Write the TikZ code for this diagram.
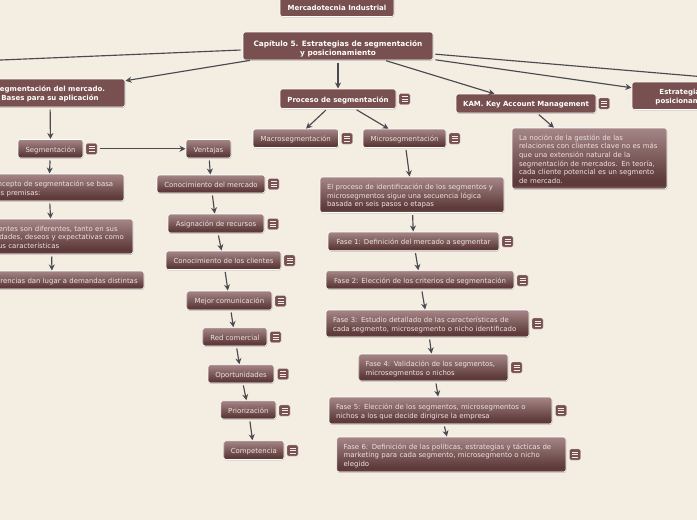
\documentclass[tikz,border=0pt]{standalone}
\usepackage{fontspec}
\setmainfont{DejaVu Sans}
\usetikzlibrary{arrows.meta,shadows}
\definecolor{paper}{HTML}{F3EDE2}
\definecolor{solidbox}{HTML}{785050}
\definecolor{softtext}{HTML}{EDE3E0}
\definecolor{linkcol}{HTML}{4A4A50}
\definecolor{boxlow}{HTML}{8E7070}
\definecolor{boxdark}{HTML}{5E3A3A}
\definecolor{boxtop}{HTML}{A58686}
\pgfdeclareverticalshading{boxshade}{100bp}{
  color(0bp)=(boxlow);
  color(25bp)=(boxlow);
  color(28bp)=(boxdark);
  color(32bp)=(boxdark);
  color(75bp)=(boxtop);
  color(100bp)=(boxtop)}
\tikzset{
  basebox/.style={rectangle,rounded corners=2.5pt,draw=white,line width=.6pt,outer sep=0pt,inner ysep=0pt,
    drop shadow={shadow xshift=.4pt,shadow yshift=-.8pt,opacity=.22,fill=black}},
  mainbox/.style={basebox,fill=solidbox,text=white,font=\fontsize{7}{8.7}\selectfont\bfseries,align=center,inner xsep=0pt},
  capbox/.style={mainbox,font=\fontsize{7.35}{9}\selectfont\bfseries},
  softbox/.style={basebox,shade,shading=boxshade,text=softtext,font=\fontsize{6.95}{8.7}\selectfont,align=center,inner xsep=0pt},
  softleft/.style={softbox,align=left,inner xsep=7pt},
  menuicon/.style={rectangle,rounded corners=1.5pt,fill=solidbox,draw=white!70!solidbox,line width=.3pt,
    minimum width=11pt,minimum height=11pt,inner sep=0pt,outer sep=0pt,
    path picture={
      \draw[white!90!solidbox,line width=.7pt]
        ([xshift=2.5pt,yshift=-3pt]path picture bounding box.north west) -- ([xshift=-2.5pt,yshift=-3pt]path picture bounding box.north east)
        ([xshift=2.5pt]path picture bounding box.west) -- ([xshift=-2.5pt]path picture bounding box.east)
        ([xshift=2.5pt,yshift=3pt]path picture bounding box.south west) -- ([xshift=-2.5pt,yshift=3pt]path picture bounding box.south east);}},
  link/.style={draw=linkcol,line width=1.15pt,-{Stealth[length=6pt,width=6pt]},shorten <=2.5pt,shorten >=.5pt},
  plainlink/.style={draw=linkcol,line width=1.15pt,shorten <=2.5pt}
}
% [style]{name}{x0}{y0}{x1}{y1}{text}
\newcommand\bx[7][softbox]{%
  \pgfmathsetmacro\bxw{#5-#3}\pgfmathsetmacro\bxh{#6-#4}%
  \pgfmathsetmacro\bxx{(#3+#5)/2}\pgfmathsetmacro\bxy{(#4+#6)/2}%
  \node[#1,minimum width=\bxw pt,minimum height=\bxh pt] (#2) at (\bxx,\bxy) {\rule{0pt}{8.2pt}#7\rule[-1.7pt]{0pt}{1pt}};}
% left-aligned box: text width follows from the box width
\newcommand\bl[6]{%
  \pgfmathsetmacro\bxtw{#4-#2-14}%
  \bx[softleft,text width=\bxtw pt]{#1}{#2}{#3}{#4}{#5}{#6}}
\newcommand\ic[3]{\node[menuicon] (#1) at (#2,#3) {};}
\begin{document}
\begin{tikzpicture}[x=1pt,y=-1pt]
\fill[paper] (0,0) rectangle (697,520);
\clip (0,0) rectangle (697,520);
\bx[mainbox]{mk}{280}{-3}{394}{16.5}{Mercadotecnia Industrial}
\bx[capbox]{cap}{243}{32}{433}{60}{\rule{0pt}{11pt}Capítulo 5. Estrategias de segmentación\\y posicionamiento}
\bx[mainbox]{seg}{-25}{79}{125}{107}{Segmentación del mercado.\\Bases para su aplicación}
\bx[mainbox]{proc}{280}{89}{396}{108.5}{Proceso de segmentación}
\bx[mainbox]{kam}{456}{94}{596}{113}{KAM. Key Account Management}
\bx[mainbox]{est}{632}{82}{744}{109.5}{Estrategias de\\posicionamiento}
\coordinate (offl) at (-100,64.2);
\coordinate (offr) at (800,85);
\bx{macro}{253}{129}{338.5}{147.5}{Macrosegmentación}
\bx{micro}{363}{129}{446}{147.5}{Microsegmentación}
\bl{kamt}{512}{128}{667}{189}{La noción de la gestión de las\\relaciones con clientes clave no es más\\que una extensión natural de la\\segmentación de mercados. En teoría,\\cada cliente potencial es un segmento\\de mercado.}
\bl{pid}{320}{177}{504}{212.5}{El proceso de identificación de los segmentos y\\microsegmentos sigue una secuencia lógica\\basada en seis pasos o etapas}
\bx{f1}{328}{232}{499}{250.7}{Fase 1: Definición del mercado a segmentar}
\bx{f2}{326}{270.7}{514}{289}{Fase 2: Elección de los criterios de segmentación}
\bl{f3}{326}{310}{529}{337}{Fase 3: Estudio detallado de las características de\\cada segmento, microsegmento o nicho identificado}
\bl{f4}{358.7}{354}{508}{381}{Fase 4: Validación de los segmentos,\\microsegmentos o nichos}
\bl{f5}{329}{397}{552}{424}{Fase 5: Elección de los segmentos, microsegmentos o\\nichos a los que decide dirigirse la empresa}
\bl{f6}{336.7}{437}{566}{472}{Fase 6: Definición de las políticas, estrategias y tácticas de\\marketing para cada segmento, microsegmento o nicho\\elegido}
\bx{sg}{18}{139.5}{83}{158}{Segmentación}
\bx{ven}{186}{139.5}{231}{158}{Ventajas}
\bl{pre}{-26}{174}{124}{201}{El concepto de segmentación se basa\\en dos premisas:}
\bl{cli}{-30}{219}{133}{254}{Los clientes son diferentes, tanto en sus\\necesidades, deseos y expectativas como\\y en sus características}
\bx{dif}{-40}{271}{144}{289}{Estas diferencias dan lugar a demandas distintas}
\bx{cm}{157}{175}{265}{193}{Conocimiento del mercado}
\bx{ar}{168}{214}{264}{233}{Asignación de recursos}
\bx{cc}{166}{251}{281}{269.5}{Conocimiento de los clientes}
\bx{mc}{186.7}{291}{272}{310}{Mejor comunicación}
\bx{rc}{202.7}{327.7}{267}{346}{Red comercial}
\bx{op}{208}{364.7}{274}{383}{Oportunidades}
\bx{pr}{220.7}{400.7}{276}{419}{Priorización}
\bx{co}{223.7}{440.7}{284}{459.5}{Competencia}
\ic{iproc}{404.5}{99}
\ic{ikam}{604}{103.5}
\ic{imacro}{347}{138.5}
\ic{imicro}{454.5}{138.5}
\ic{if1}{507.5}{241.5}
\ic{if2}{522.5}{280.5}
\ic{if3}{537.5}{323.5}
\ic{if4}{516.5}{367.5}
\ic{if5}{561}{410.5}
\ic{if6}{575}{454.5}
\ic{isg}{91.5}{148.75}
\ic{icm}{273.5}{184}
\ic{iar}{273}{224}
\ic{icc}{289.5}{260.5}
\ic{imc}{280.5}{301}
\ic{irc}{275.5}{337}
\ic{iop}{283}{374}
\ic{ipr}{284.5}{410.5}
\ic{ico}{292.5}{450.5}
\draw[plainlink] (cap) -- (offl);
\draw[plainlink] (cap) -- (offr);
\draw[link] (cap) -- (seg);
\draw[link] (cap) -- (proc);
\draw[link] (cap) -- (kam);
\draw[link] (cap) -- (est);
\draw[link] (proc) -- (macro);
\draw[link] (proc) -- (micro);
\draw[link] (kam) -- (kamt);
\draw[link] (micro) -- (pid);
\draw[link] (pid) -- (f1);
\draw[link] (f1) -- (f2);
\draw[link] (f2) -- (f3);
\draw[link] (f3) -- (f4);
\draw[link] (f4) -- (f5);
\draw[link] (f5) -- (f6);
\draw[link] (seg) -- (sg);
\draw[link] (sg) -- (pre);
\draw[link] (pre) -- (cli);
\draw[link] (cli) -- (dif);
\draw[link] (isg) -- (ven);
\draw[link] (ven) -- (cm);
\draw[link] (cm) -- (ar);
\draw[link] (ar) -- (cc);
\draw[link] (cc) -- (mc);
\draw[link] (mc) -- (rc);
\draw[link] (rc) -- (op);
\draw[link] (op) -- (pr);
\draw[link] (pr) -- (co);
\end{tikzpicture}
\end{document}
